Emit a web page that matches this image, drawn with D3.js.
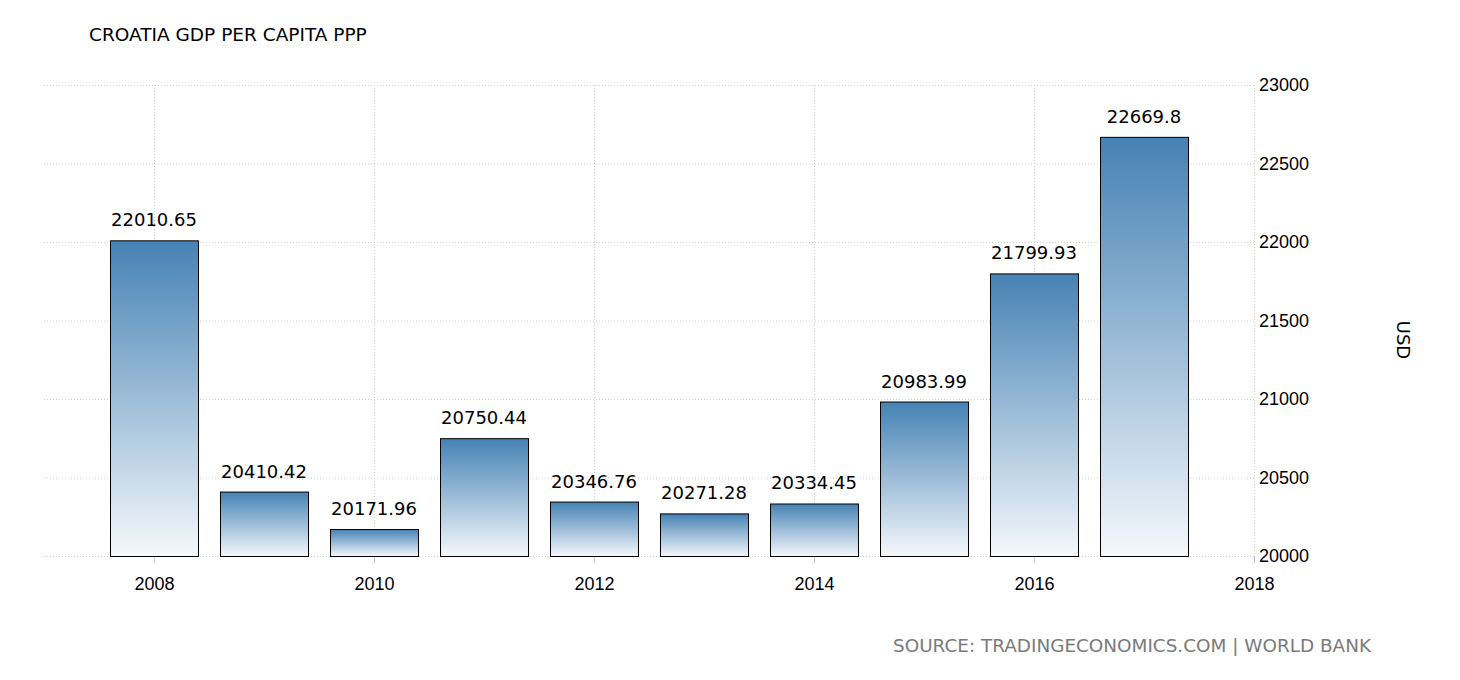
<!DOCTYPE html>
<html>
<head>
<meta charset="utf-8">
<script src="https://cdn.jsdelivr.net/npm/d3@7"></script>
<style>
  body { margin: 0; background: #fff; }
  svg { font-family: "DejaVu Sans", sans-serif; }
  .grid line { stroke: #cfcfcf; stroke-dasharray: 1, 2; }
  .domain { display: none; }
</style>
</head>
<body>
<svg width="1460" height="680"></svg>
<script>
const YEARS = [2008, 2009, 2010, 2011, 2012, 2013, 2014, 2015, 2016, 2017];
const GDP = [22010.65, 20410.42, 20171.96, 20750.44, 20346.76, 20271.28, 20334.45, 20983.99, 21799.93, 22669.8];
const LABELS = ["22010.65", "20410.42", "20171.96", "20750.44", "20346.76", "20271.28", "20334.45", "20983.99", "21799.93", "22669.8"];
const X_TICKS = [2008, 2010, 2012, 2014, 2016, 2018];
const Y_TICKS = [20000, 20500, 21000, 21500, 22000, 22500, 23000];

const data = YEARS.map((y, i) => ({ year: y, value: GDP[i], label: LABELS[i] }));

const LEFT = 44, RIGHT = 1254, TOP = 85, BOTTOM = 556;

const x = d3.scaleLinear()
    .domain([2008, 2018])
    .range([154, 1254]);

const y = d3.scaleLinear()
    .domain([20000, 23000])
    .range([BOTTOM, TOP]);

const barW = (x(2009) - x(2008)) * 0.8;

const svg = d3.select("svg");

const defs = svg.append("defs");
const grad = defs.append("linearGradient")
    .attr("id", "barGrad")
    .attr("x1", 0).attr("y1", 0).attr("x2", 0).attr("y2", 1);
grad.append("stop").attr("offset", "0%").attr("stop-color", "#4682b4");
grad.append("stop").attr("offset", "100%").attr("stop-color", "#f5f8fc");

// gridlines
const grid = svg.append("g").attr("class", "grid");
grid.selectAll(".hg")
    .data(Y_TICKS)
    .enter()
    .append("line")
    .attr("x1", LEFT).attr("x2", RIGHT)
    .attr("y1", d => y(d) + 0.5).attr("y2", d => y(d) + 0.5);
grid.selectAll(".vg")
    .data(X_TICKS)
    .enter()
    .append("line")
    .attr("x1", d => x(d) + 0.5).attr("x2", d => x(d) + 0.5)
    .attr("y1", TOP).attr("y2", BOTTOM);

// x axis
svg.append("g")
    .attr("transform", `translate(0, ${BOTTOM})`)
    .call(d3.axisBottom(x).tickValues(X_TICKS).tickFormat(d3.format("d")).tickSize(7).tickPadding(14))
    .call(g => g.selectAll(".tick line").attr("stroke", "#c8c8c8"))
    .call(g => g.selectAll("text").attr("fill", "#000").style("font-size", "18px"));

// y axis
svg.append("g")
    .attr("transform", `translate(${RIGHT + 5}, 0)`)
    .call(d3.axisRight(y).tickValues(Y_TICKS).tickFormat(d3.format("d")).tickSize(0).tickPadding(0))
    .call(g => g.selectAll("text").attr("fill", "#000").style("font-size", "18px"));

// bars
svg.selectAll(".bar")
    .data(data)
    .enter()
    .append("rect")
    .classed("bar", true)
    .attr("x", d => x(d.year) - barW / 2 + 0.5)
    .attr("y", d => y(d.value) + 0.5)
    .attr("width", barW)
    .attr("height", d => BOTTOM - y(d.value))
    .attr("fill", "url(#barGrad)")
    .attr("stroke", "#000")
    .attr("stroke-width", 1);

svg.selectAll(".label")
    .data(data)
    .enter()
    .append("text")
    .classed("label", true)
    .text(d => d.label)
    .attr("x", d => x(d.year))
    .attr("y", d => y(d.value) - 14)
    .attr("text-anchor", "middle")
    .style("font-size", "18px");

svg.append("text")
    .text("CROATIA GDP PER CAPITA PPP")
    .attr("x", 89).attr("y", 41)
    .style("font-size", "18.5px");

svg.append("text")
    .text("USD")
    .attr("transform", "translate(1397, 340) rotate(90)")
    .attr("text-anchor", "middle")
    .style("font-size", "18px");

svg.append("text")
    .text("SOURCE: TRADINGECONOMICS.COM | WORLD BANK")
    .attr("x", 1371).attr("y", 652)
    .attr("text-anchor", "end")
    .attr("fill", "#7a7a7a")
    .style("font-size", "18.4px");
</script>
</body>
</html>
